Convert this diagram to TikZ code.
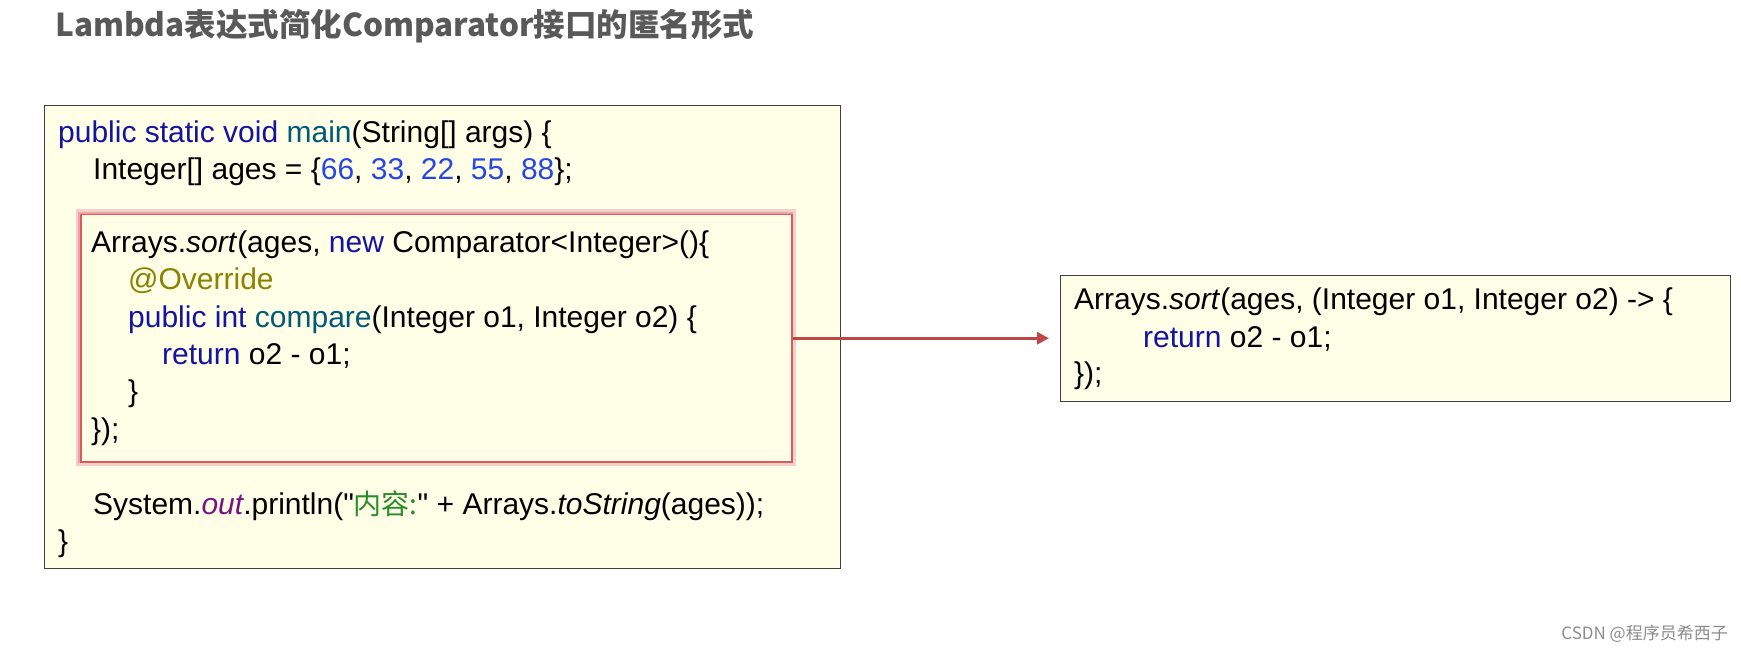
\documentclass[tikz,border=0pt]{standalone}
\usepackage{fontspec}
\setmainfont{Liberation Sans}
\newfontfamily\plainq{Liberation Sans}
\newfontfamily\cjk{Noto Sans CJK SC}
\usetikzlibrary{arrows.meta}
\definecolor{bgy}{RGB}{255,255,232}
\definecolor{kw}{RGB}{20,20,160}
\definecolor{fn}{RGB}{0,90,120}
\definecolor{num}{RGB}{40,70,230}
\definecolor{ann}{RGB}{140,130,0}
\definecolor{outc}{RGB}{120,20,130}
\definecolor{strc}{RGB}{40,140,40}
\definecolor{redb}{RGB}{220,90,90}
\definecolor{arr}{RGB}{190,70,70}
\begin{document}
\begin{tikzpicture}[x=1pt,y=-1pt,
  code/.style={anchor=base west,inner sep=0pt,font=\fontsize{30}{34}\selectfont},
  box/.style={draw=black!75,line width=0.8pt,fill=bgy}]
\useasboundingbox (0,0) rectangle (1741,652);
\node[anchor=west,inner sep=0pt,text=black!65,font=\cjk\bfseries\fontsize{31.5}{34}\selectfont] (title) at (55,26) {Lambda表达式简化Comparator接口的匿名形式};
\node[box,minimum width=796,minimum height=463,anchor=north west] (left) at (44,105) {};
\draw[redb!30,line width=9pt] (80,214) rectangle (791,461);
\draw[redb!55,line width=4pt] (80,214) rectangle (791,461);
\node[draw=redb,line width=1.5pt,fill=bgy,minimum width=711,minimum height=247,anchor=north west] (red) at (80,214) {};
\node[box,minimum width=670,minimum height=126,anchor=north west] (right) at (1060,275) {};
\draw[arr,line width=3pt,-{Triangle[length=12pt,width=12pt]},shorten >=11pt] (red.east) -- (right.west |- red.east) ;
% left code
\node[code] (l1) at (58,143) {\textcolor{kw}{public static void} \textcolor{fn}{main}(String[] args) \{};
\node[code] (l2) at (93,180) {Integer[] ages = \{\textcolor{num}{66}, \textcolor{num}{33}, \textcolor{num}{22}, \textcolor{num}{55}, \textcolor{num}{88}\};};
\node[code] (l3) at (91,253) {Arrays.\textit{sort}(ages, \textcolor{kw}{new} Comparator<Integer>()\{};
\node[code] (l4) at (128,290) {\textcolor{ann}{@Override}};
\node[code] (l5) at (128,328) {\textcolor{kw}{public int} \textcolor{fn}{compare}(Integer o1, Integer o2) \{};
\node[code] (l6) at (162,365) {\textcolor{kw}{return} o2 - o1;};
\node[code] (l7) at (128,402) {\}};
\node[code] (l8) at (91,439) {\});};
\node[code] (l9) at (93,514) {System.\textit{\textcolor{outc}{out}}.println({\plainq"}\textcolor{strc}{\cjk\fontsize{28}{30}\selectfont 内容:}{\plainq"} + Arrays.\textit{toString}(ages));};
\node[code] (l10) at (58,551) {\}};
% right code
\node[code] (r1) at (1074,310) {Arrays.\textit{sort}(ages, (Integer o1, Integer o2) -> \{};
\node[code] (r2) at (1143,348) {\textcolor{kw}{return} o2 - o1;};
\node[code] (r3) at (1074,384) {\});};
\node[anchor=east,inner sep=0pt,text=black!45,font=\cjk\fontsize{17}{20}\selectfont] (wm) at (1728,634) {CSDN @程序员希西子};
\end{tikzpicture}
\end{document}
